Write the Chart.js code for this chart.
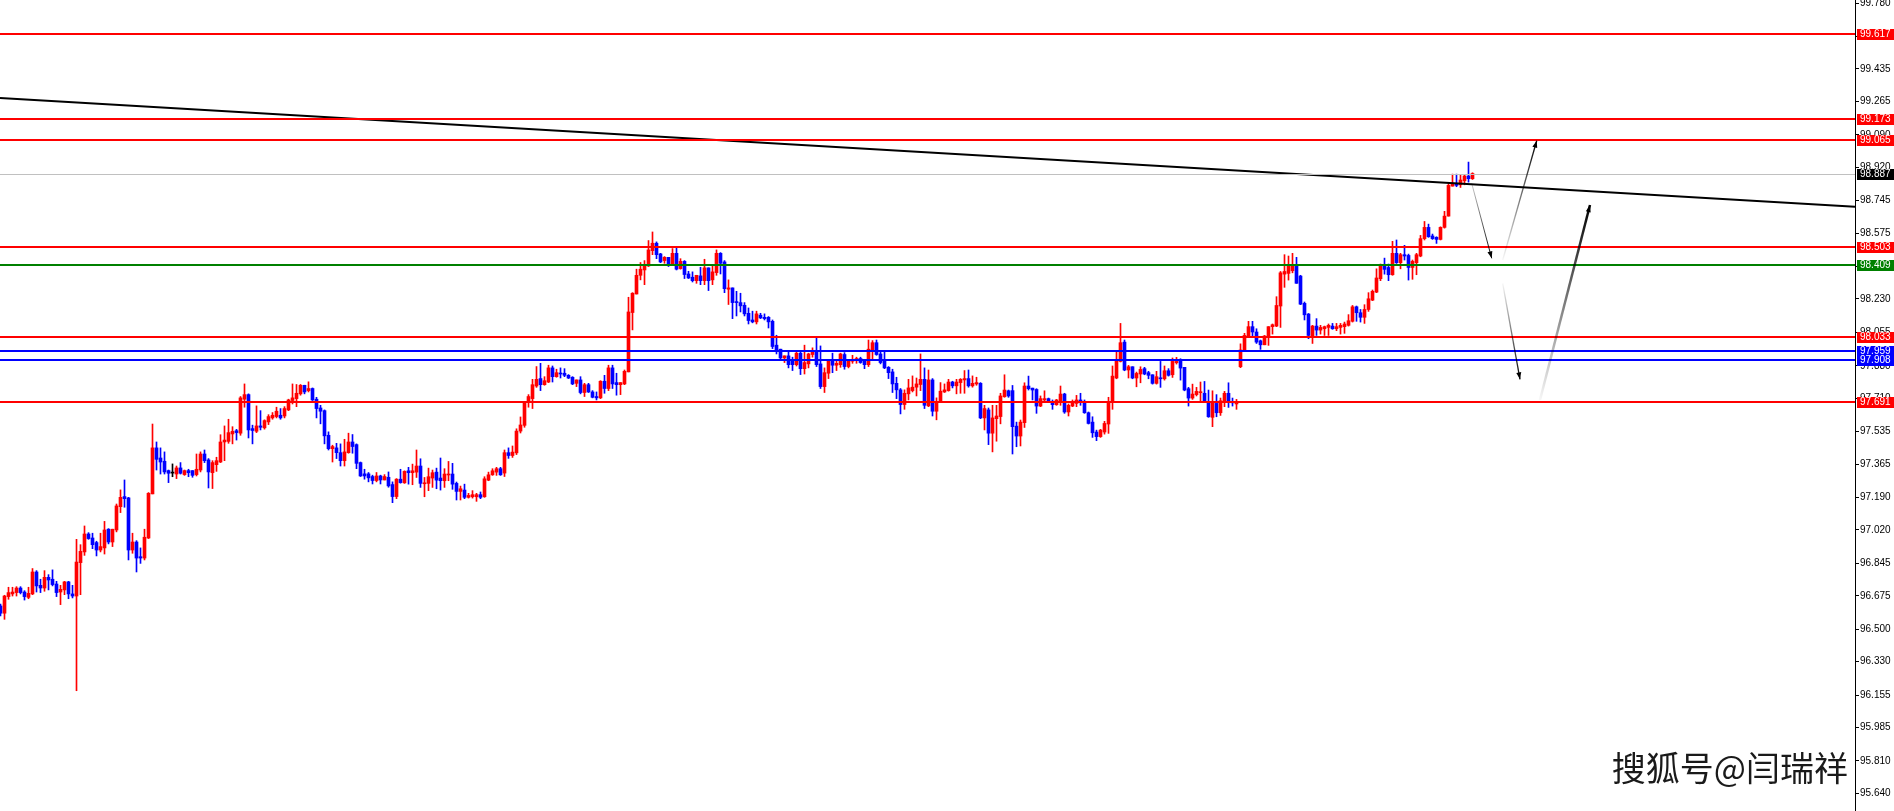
<!DOCTYPE html>
<html>
<head>
<meta charset="utf-8">
<title>USDX H1</title>
<script src="https://cdn.jsdelivr.net/npm/chart.js@4.4.1/dist/chart.umd.min.js"></script>
<style>
  html, body { margin: 0; padding: 0; background: #fff; }
  #wrap { width: 1894px; height: 811px; }
</style>
</head>
<body>
<div id="wrap"><canvas id="priceChart" width="1894" height="811"></canvas></div>
<script>
// candle data, one entry per bar (oldest first)
var openPrices = [
  96.622, 96.584, 96.671, 96.685, 96.692, 96.716, 96.695, 96.667, 96.685, 96.800,
  96.730, 96.716, 96.772, 96.762, 96.737, 96.695, 96.706, 96.748, 96.685, 96.674,
  96.849, 96.905, 96.999, 96.978, 96.954, 96.915, 96.926, 97.024, 96.957, 97.020,
  97.142, 97.195, 97.188, 96.915, 96.957, 96.880, 96.873, 96.978, 97.209, 97.450,
  97.397, 97.380, 97.331, 97.318, 97.313, 97.345, 97.310, 97.331, 97.331, 97.310,
  97.334, 97.418, 97.387, 97.320, 97.362, 97.376, 97.481, 97.484, 97.523, 97.540,
  97.527, 97.705, 97.729, 97.551, 97.537, 97.565, 97.555, 97.586, 97.607, 97.614,
  97.621, 97.617, 97.649, 97.698, 97.708, 97.733, 97.778, 97.750, 97.761, 97.705,
  97.659, 97.645, 97.516, 97.446, 97.450, 97.425, 97.383, 97.425, 97.481, 97.467,
  97.373, 97.314, 97.314, 97.300, 97.279, 97.303, 97.282, 97.296, 97.258, 97.195,
  97.286, 97.267, 97.330, 97.320, 97.323, 97.355, 97.262, 97.264, 97.292, 97.323,
  97.292, 97.278, 97.308, 97.313, 97.264, 97.222, 97.229, 97.191, 97.194, 97.194,
  97.205, 97.194, 97.281, 97.309, 97.323, 97.341, 97.318, 97.425, 97.410, 97.424,
  97.538, 97.568, 97.687, 97.708, 97.774, 97.813, 97.781, 97.795, 97.869, 97.823,
  97.841, 97.841, 97.830, 97.820, 97.788, 97.806, 97.740, 97.781, 97.743, 97.719,
  97.712, 97.799, 97.761, 97.869, 97.792, 97.781, 97.785, 97.848, 98.159, 98.256,
  98.354, 98.382, 98.403, 98.483, 98.522, 98.466, 98.431, 98.448, 98.410, 98.469,
  98.389, 98.427, 98.361, 98.344, 98.326, 98.351, 98.326, 98.393, 98.330, 98.368,
  98.469, 98.424, 98.281, 98.288, 98.214, 98.211, 98.197, 98.155, 98.120, 98.110,
  98.145, 98.134, 98.134, 98.113, 97.988, 97.967, 97.921, 97.932, 97.914, 97.886,
  97.946, 97.865, 97.890, 97.939, 97.956, 97.890, 97.771, 97.841, 97.904, 97.883,
  97.886, 97.939, 97.876, 97.904, 97.907, 97.918, 97.907, 97.886, 97.963, 98.001,
  97.942, 97.904, 97.872, 97.848, 97.788, 97.754, 97.677, 97.733, 97.750, 97.768,
  97.782, 97.809, 97.670, 97.806, 97.642, 97.687, 97.743, 97.750, 97.795, 97.775,
  97.792, 97.806, 97.813, 97.775, 97.785, 97.788, 97.607, 97.649, 97.527, 97.603,
  97.614, 97.718, 97.749, 97.750, 97.564, 97.512, 97.582, 97.774, 97.763, 97.756,
  97.669, 97.701, 97.708, 97.690, 97.676, 97.697, 97.732, 97.638, 97.669, 97.683,
  97.701, 97.694, 97.634, 97.585, 97.533, 97.509, 97.533, 97.575, 97.690, 97.816,
  97.903, 98.004, 97.858, 97.875, 97.816, 97.837, 97.865, 97.844, 97.833, 97.788,
  97.816, 97.812, 97.854, 97.833, 97.896, 97.914, 97.872, 97.760, 97.711, 97.729,
  97.739, 97.736, 97.694, 97.610, 97.683, 97.634, 97.694, 97.736, 97.690, 97.680,
  97.875, 97.963, 98.032, 98.085, 98.057, 98.011, 97.990, 98.032, 98.085, 98.088,
  98.193, 98.360, 98.364, 98.378, 98.406, 98.350, 98.207, 98.151, 98.036, 98.088,
  98.067, 98.074, 98.081, 98.088, 98.074, 98.081, 98.085, 98.092, 98.113, 98.189,
  98.158, 98.134, 98.175, 98.224, 98.266, 98.336, 98.409, 98.395, 98.357, 98.469,
  98.420, 98.462, 98.458, 98.395, 98.420, 98.455, 98.546, 98.605, 98.560, 98.553,
  98.542, 98.605, 98.664, 98.821, 98.835, 98.828, 98.849, 98.874, 98.860
];
var highPrices = [
  96.632, 96.678, 96.720, 96.720, 96.723, 96.723, 96.702, 96.720, 96.818, 96.807,
  96.762, 96.807, 96.786, 96.811, 96.751, 96.730, 96.751, 96.751, 96.730, 96.971,
  96.943, 97.041, 97.006, 97.003, 96.961, 97.003, 97.065, 97.027, 97.024, 97.156,
  97.230, 97.282, 97.191, 97.003, 96.964, 96.926, 97.024, 97.216, 97.575, 97.481,
  97.450, 97.429, 97.334, 97.366, 97.355, 97.373, 97.334, 97.338, 97.331, 97.418,
  97.429, 97.439, 97.394, 97.383, 97.401, 97.519, 97.565, 97.600, 97.561, 97.547,
  97.719, 97.785, 97.733, 97.569, 97.670, 97.645, 97.597, 97.624, 97.635, 97.663,
  97.656, 97.666, 97.705, 97.785, 97.782, 97.782, 97.778, 97.796, 97.764, 97.715,
  97.673, 97.649, 97.534, 97.464, 97.474, 97.471, 97.495, 97.527, 97.520, 97.471,
  97.376, 97.338, 97.321, 97.307, 97.321, 97.307, 97.310, 97.324, 97.272, 97.289,
  97.338, 97.330, 97.348, 97.365, 97.439, 97.393, 97.295, 97.344, 97.334, 97.344,
  97.397, 97.341, 97.379, 97.369, 97.271, 97.250, 97.260, 97.212, 97.226, 97.212,
  97.219, 97.299, 97.323, 97.341, 97.348, 97.348, 97.439, 97.450, 97.460, 97.550,
  97.612, 97.691, 97.729, 97.809, 97.876, 97.893, 97.823, 97.883, 97.879, 97.862,
  97.869, 97.865, 97.834, 97.823, 97.806, 97.823, 97.788, 97.788, 97.750, 97.743,
  97.802, 97.830, 97.883, 97.883, 97.841, 97.792, 97.858, 98.239, 98.263, 98.386,
  98.421, 98.431, 98.536, 98.581, 98.529, 98.469, 98.452, 98.448, 98.494, 98.497,
  98.441, 98.431, 98.375, 98.372, 98.354, 98.396, 98.438, 98.393, 98.403, 98.487,
  98.473, 98.431, 98.330, 98.288, 98.270, 98.260, 98.211, 98.183, 98.166, 98.166,
  98.155, 98.152, 98.138, 98.120, 98.040, 97.967, 97.932, 97.956, 97.925, 97.956,
  97.953, 97.988, 97.946, 97.974, 98.026, 97.984, 97.869, 97.914, 97.946, 97.914,
  97.946, 97.949, 97.914, 97.935, 97.925, 97.925, 97.911, 98.015, 98.012, 98.015,
  97.960, 97.956, 97.876, 97.862, 97.820, 97.761, 97.754, 97.809, 97.827, 97.816,
  97.942, 97.869, 97.858, 97.813, 97.712, 97.792, 97.785, 97.809, 97.799, 97.809,
  97.813, 97.855, 97.858, 97.827, 97.820, 97.792, 97.673, 97.659, 97.673, 97.673,
  97.736, 97.833, 97.753, 97.777, 97.585, 97.596, 97.791, 97.826, 97.763, 97.760,
  97.722, 97.749, 97.711, 97.701, 97.704, 97.774, 97.736, 97.680, 97.701, 97.725,
  97.736, 97.701, 97.638, 97.613, 97.543, 97.547, 97.589, 97.715, 97.879, 97.956,
  98.102, 98.015, 97.882, 97.875, 97.847, 97.875, 97.872, 97.851, 97.833, 97.851,
  97.903, 97.879, 97.865, 97.921, 97.924, 97.917, 97.872, 97.767, 97.784, 97.767,
  97.795, 97.798, 97.753, 97.749, 97.729, 97.711, 97.746, 97.791, 97.711, 97.704,
  97.995, 98.050, 98.113, 98.113, 98.074, 98.015, 98.039, 98.085, 98.099, 98.242,
  98.374, 98.462, 98.455, 98.469, 98.448, 98.354, 98.214, 98.154, 98.092, 98.127,
  98.092, 98.088, 98.099, 98.102, 98.102, 98.102, 98.109, 98.148, 98.196, 98.193,
  98.175, 98.200, 98.263, 98.277, 98.388, 98.413, 98.444, 98.413, 98.532, 98.539,
  98.469, 98.511, 98.465, 98.434, 98.469, 98.563, 98.636, 98.622, 98.570, 98.556,
  98.608, 98.689, 98.835, 98.884, 98.884, 98.881, 98.881, 98.947, 98.891
];
var lowPrices = [
  96.570, 96.552, 96.657, 96.674, 96.674, 96.685, 96.653, 96.660, 96.681, 96.695,
  96.692, 96.699, 96.706, 96.727, 96.671, 96.629, 96.681, 96.660, 96.664, 96.178,
  96.681, 96.887, 96.971, 96.922, 96.884, 96.905, 96.894, 96.947, 96.933, 97.010,
  97.111, 97.139, 96.863, 96.898, 96.800, 96.845, 96.863, 96.975, 97.209, 97.334,
  97.313, 97.313, 97.268, 97.299, 97.289, 97.313, 97.306, 97.299, 97.296, 97.303,
  97.324, 97.373, 97.240, 97.237, 97.327, 97.373, 97.383, 97.474, 97.471, 97.491,
  97.516, 97.663, 97.502, 97.471, 97.530, 97.544, 97.548, 97.572, 97.600, 97.607,
  97.600, 97.607, 97.645, 97.680, 97.666, 97.726, 97.733, 97.743, 97.698, 97.607,
  97.576, 97.471, 97.439, 97.376, 97.394, 97.355, 97.355, 97.422, 97.422, 97.341,
  97.300, 97.286, 97.272, 97.261, 97.272, 97.261, 97.282, 97.244, 97.163, 97.184,
  97.265, 97.264, 97.260, 97.257, 97.295, 97.243, 97.194, 97.226, 97.243, 97.236,
  97.229, 97.243, 97.278, 97.233, 97.177, 97.177, 97.184, 97.187, 97.187, 97.170,
  97.184, 97.191, 97.278, 97.306, 97.306, 97.306, 97.300, 97.395, 97.400, 97.415,
  97.528, 97.558, 97.663, 97.656, 97.767, 97.750, 97.778, 97.792, 97.795, 97.820,
  97.816, 97.823, 97.813, 97.781, 97.771, 97.733, 97.719, 97.740, 97.712, 97.701,
  97.708, 97.736, 97.750, 97.761, 97.726, 97.729, 97.781, 97.848, 98.068, 98.256,
  98.330, 98.305, 98.400, 98.462, 98.441, 98.420, 98.417, 98.400, 98.407, 98.382,
  98.386, 98.337, 98.337, 98.319, 98.312, 98.305, 98.305, 98.274, 98.305, 98.354,
  98.361, 98.263, 98.201, 98.127, 98.141, 98.162, 98.141, 98.099, 98.105, 98.099,
  98.127, 98.120, 98.078, 97.970, 97.942, 97.914, 97.897, 97.869, 97.855, 97.879,
  97.834, 97.837, 97.869, 97.925, 97.876, 97.761, 97.740, 97.813, 97.844, 97.855,
  97.872, 97.862, 97.869, 97.893, 97.893, 97.893, 97.865, 97.876, 97.911, 97.935,
  97.890, 97.865, 97.813, 97.740, 97.708, 97.628, 97.652, 97.701, 97.743, 97.722,
  97.750, 97.656, 97.666, 97.617, 97.597, 97.687, 97.740, 97.747, 97.764, 97.733,
  97.736, 97.736, 97.768, 97.768, 97.778, 97.603, 97.544, 97.467, 97.429, 97.485,
  97.576, 97.715, 97.715, 97.418, 97.456, 97.460, 97.557, 97.753, 97.701, 97.631,
  97.666, 97.697, 97.687, 97.652, 97.673, 97.673, 97.631, 97.617, 97.666, 97.666,
  97.673, 97.631, 97.575, 97.505, 97.488, 97.505, 97.522, 97.526, 97.652, 97.812,
  97.900, 97.854, 97.816, 97.812, 97.770, 97.791, 97.833, 97.812, 97.784, 97.784,
  97.767, 97.805, 97.826, 97.819, 97.889, 97.805, 97.749, 97.669, 97.704, 97.722,
  97.690, 97.690, 97.610, 97.561, 97.613, 97.620, 97.666, 97.662, 97.669, 97.652,
  97.870, 97.955, 98.032, 98.036, 97.997, 97.966, 97.990, 97.987, 98.046, 98.085,
  98.081, 98.291, 98.329, 98.367, 98.312, 98.200, 98.120, 98.022, 97.997, 98.039,
  98.046, 98.039, 98.039, 98.071, 98.064, 98.046, 98.050, 98.088, 98.109, 98.113,
  98.109, 98.102, 98.165, 98.221, 98.263, 98.326, 98.360, 98.326, 98.354, 98.416,
  98.388, 98.434, 98.329, 98.333, 98.357, 98.451, 98.539, 98.553, 98.542, 98.521,
  98.539, 98.601, 98.664, 98.821, 98.818, 98.814, 98.828, 98.842, 98.856
];
var closePrices = [
  96.584, 96.674, 96.692, 96.695, 96.716, 96.692, 96.671, 96.688, 96.800, 96.727,
  96.716, 96.772, 96.758, 96.734, 96.692, 96.709, 96.748, 96.685, 96.674, 96.852,
  96.908, 96.999, 96.975, 96.943, 96.915, 96.933, 97.020, 96.957, 97.024, 97.146,
  97.191, 97.184, 96.915, 96.957, 96.873, 96.873, 96.982, 97.212, 97.450, 97.390,
  97.376, 97.324, 97.317, 97.318, 97.345, 97.317, 97.331, 97.320, 97.306, 97.338,
  97.418, 97.383, 97.324, 97.373, 97.383, 97.481, 97.491, 97.530, 97.537, 97.530,
  97.712, 97.729, 97.544, 97.541, 97.565, 97.558, 97.593, 97.614, 97.621, 97.642,
  97.607, 97.656, 97.701, 97.712, 97.736, 97.778, 97.743, 97.761, 97.701, 97.656,
  97.642, 97.513, 97.446, 97.457, 97.425, 97.383, 97.429, 97.481, 97.457, 97.369,
  97.303, 97.303, 97.293, 97.279, 97.303, 97.282, 97.300, 97.251, 97.195, 97.286,
  97.268, 97.327, 97.320, 97.330, 97.355, 97.264, 97.267, 97.299, 97.320, 97.281,
  97.278, 97.313, 97.313, 97.260, 97.222, 97.236, 97.191, 97.201, 97.205, 97.205,
  97.191, 97.288, 97.309, 97.330, 97.341, 97.309, 97.425, 97.410, 97.428, 97.538,
  97.570, 97.687, 97.719, 97.781, 97.809, 97.781, 97.802, 97.869, 97.823, 97.844,
  97.837, 97.830, 97.816, 97.785, 97.806, 97.740, 97.781, 97.743, 97.715, 97.712,
  97.799, 97.761, 97.869, 97.785, 97.781, 97.792, 97.851, 98.162, 98.260, 98.354,
  98.386, 98.407, 98.487, 98.522, 98.462, 98.424, 98.448, 98.410, 98.469, 98.386,
  98.427, 98.358, 98.340, 98.326, 98.354, 98.326, 98.393, 98.326, 98.372, 98.469,
  98.417, 98.284, 98.288, 98.211, 98.211, 98.194, 98.152, 98.117, 98.110, 98.152,
  98.131, 98.127, 98.110, 97.981, 97.960, 97.921, 97.932, 97.886, 97.886, 97.946,
  97.865, 97.897, 97.942, 97.956, 97.886, 97.771, 97.844, 97.904, 97.883, 97.893,
  97.942, 97.876, 97.904, 97.911, 97.918, 97.897, 97.886, 97.967, 98.001, 97.939,
  97.897, 97.869, 97.844, 97.785, 97.754, 97.677, 97.736, 97.764, 97.768, 97.785,
  97.809, 97.673, 97.806, 97.642, 97.691, 97.747, 97.754, 97.795, 97.775, 97.795,
  97.809, 97.813, 97.775, 97.788, 97.792, 97.607, 97.656, 97.527, 97.607, 97.617,
  97.722, 97.753, 97.722, 97.561, 97.512, 97.585, 97.774, 97.760, 97.753, 97.669,
  97.708, 97.708, 97.690, 97.676, 97.701, 97.732, 97.638, 97.673, 97.690, 97.701,
  97.690, 97.634, 97.578, 97.529, 97.509, 97.543, 97.578, 97.694, 97.826, 97.907,
  98.001, 97.858, 97.875, 97.816, 97.840, 97.861, 97.837, 97.830, 97.788, 97.823,
  97.812, 97.854, 97.830, 97.903, 97.903, 97.868, 97.753, 97.711, 97.732, 97.746,
  97.742, 97.690, 97.613, 97.690, 97.634, 97.697, 97.736, 97.687, 97.686, 97.694,
  97.963, 98.039, 98.085, 98.057, 98.004, 97.990, 98.036, 98.085, 98.095, 98.196,
  98.367, 98.374, 98.406, 98.406, 98.312, 98.203, 98.147, 98.039, 98.088, 98.067,
  98.081, 98.085, 98.092, 98.074, 98.085, 98.092, 98.099, 98.116, 98.189, 98.158,
  98.134, 98.175, 98.231, 98.270, 98.340, 98.409, 98.385, 98.357, 98.469, 98.420,
  98.462, 98.455, 98.395, 98.427, 98.462, 98.546, 98.605, 98.556, 98.546, 98.542,
  98.605, 98.664, 98.825, 98.835, 98.825, 98.853, 98.874, 98.860, 98.887
];

// horizontal levels drawn on the chart
var levelValues = [99.617, 99.173, 99.065, 98.887, 98.503, 98.409, 98.033, 97.959, 97.908, 97.691];
var levelColors = ['#ff0000', '#ff0000', '#ff0000', '#c0c0c0', '#ff0000', '#008000', '#ff0000', '#0000ff', '#0000ff', '#ff0000'];
var levelBoxColors = ['#ff0000', '#ff0000', '#ff0000', '#000000', '#ff0000', '#008000', '#ff0000', '#0000ff', '#0000ff', '#ff0000'];

// price axis labels
var tickValues = [99.780, 99.605, 99.435, 99.265, 99.090, 98.920, 98.745, 98.575, 98.400, 98.230,
  98.055, 97.880, 97.710, 97.535, 97.365, 97.190, 97.020, 96.845, 96.675, 96.500,
  96.330, 96.155, 95.985, 95.810, 95.640];

// falling trend line (bar index, price)
var trendX = [-0.125, 463.625];
var trendY = [99.283, 98.713];

// projection arrows (bar index, price)
var arrowX0 = [367.8, 375.55, 375.55, 384.875];
var arrowY0 = [98.836, 98.434, 98.312, 97.701];
var arrowX1 = [372.8, 384.05, 379.875, 397.375];
var arrowY1 = [98.443, 99.059, 97.809, 98.722];
var arrowWidths = [1, 1.3, 1.3, 2.5];

var watermark = '搜狐号@闫瑞祥';

var candleColors = openPrices.map(function(o, i){
  var c = closePrices[i];
  if (c > o) return '#ff0000';
  if (c < o) return '#0000ff';
  return '#000000';
});
var wickData = openPrices.map(function(o, i){ return {x: i, y: [lowPrices[i], highPrices[i]]}; });
var bodyData = openPrices.map(function(o, i){ return {x: i, y: [o, closePrices[i]]}; });
var trendData = trendX.map(function(v, i){ return {x: v, y: trendY[i]}; });

var axisFont = '"Liberation Sans", Arial, sans-serif';

var overlay = {
  id: 'overlay',
  afterDatasetsDraw: function(chart){
    var ctx = chart.ctx, area = chart.chartArea, xs = chart.scales.x, ys = chart.scales.y;
    ctx.save();
    // level lines
    for (var i = 0; i < levelValues.length; i++){
      var py = Math.round(ys.getPixelForValue(levelValues[i]));
      var thick = levelColors[i] === '#c0c0c0' ? 1 : 2;
      ctx.fillStyle = levelColors[i];
      ctx.fillRect(area.left, py - (thick > 1 ? 1 : 0), area.right - area.left, thick);
    }
    // arrows
    for (var j = 0; j < arrowX0.length; j++){
      var x0 = xs.getPixelForValue(arrowX0[j]), y0 = ys.getPixelForValue(arrowY0[j]);
      var x1 = xs.getPixelForValue(arrowX1[j]), y1 = ys.getPixelForValue(arrowY1[j]);
      var g = ctx.createLinearGradient(x0, y0, x1, y1);
      g.addColorStop(0, j === 0 ? 'rgba(0,0,0,0.2)' : 'rgba(0,0,0,0.03)');
      g.addColorStop(1, 'rgba(0,0,0,1)');
      ctx.strokeStyle = g;
      ctx.lineWidth = arrowWidths[j];
      ctx.beginPath();
      ctx.moveTo(x0, y0);
      ctx.lineTo(x1, y1);
      ctx.stroke();
      var ang = Math.atan2(y1 - y0, x1 - x0), L = 7, W = 2.5;
      ctx.fillStyle = '#000';
      ctx.beginPath();
      ctx.moveTo(x1, y1);
      ctx.lineTo(x1 - L*Math.cos(ang) + W*Math.sin(ang), y1 - L*Math.sin(ang) - W*Math.cos(ang));
      ctx.lineTo(x1 - L*Math.cos(ang) - W*Math.sin(ang), y1 - L*Math.sin(ang) + W*Math.cos(ang));
      ctx.closePath();
      ctx.fill();
    }
    ctx.restore();
  },
  afterDraw: function(chart){
    var ctx = chart.ctx, area = chart.chartArea, ys = chart.scales.y;
    ctx.save();
    // price boxes on the axis
    ctx.font = '10px ' + axisFont;
    ctx.textBaseline = 'middle';
    ctx.textAlign = 'left';
    for (var i = 0; i < levelValues.length; i++){
      var py = Math.round(ys.getPixelForValue(levelValues[i]));
      ctx.fillStyle = levelBoxColors[i];
      ctx.fillRect(area.right + 2, py - 5, 37, 11);
      ctx.fillStyle = '#ffffff';
      ctx.fillText(levelValues[i].toFixed(3), area.right + 5, py + 0.5);
    }
    // watermark
    ctx.font = '34px "Noto Sans CJK SC", sans-serif';
    ctx.textAlign = 'right';
    ctx.textBaseline = 'middle';
    ctx.lineWidth = 3;
    ctx.strokeStyle = 'rgba(255,255,255,0.9)';
    ctx.strokeText(watermark, area.right - 7, 768);
    ctx.fillStyle = '#1a1a1a';
    ctx.fillText(watermark, area.right - 7, 768);
    ctx.restore();
  }
};

var chart = new Chart(document.getElementById('priceChart'), {
  type: 'bar',
  data: {
    datasets: [
      { type: 'bar', data: wickData, backgroundColor: candleColors, barThickness: 1, grouped: false, order: 2 },
      { type: 'bar', data: bodyData, backgroundColor: candleColors, barThickness: 3, grouped: false, minBarLength: 1, order: 1 },
      { type: 'line', data: trendData, borderColor: '#000000', borderWidth: 2, pointRadius: 0, order: 0 }
    ]
  },
  options: {
    responsive: false,
    animation: false,
    devicePixelRatio: 1,
    layout: { padding: 0 },
    plugins: { legend: { display: false }, tooltip: { enabled: false } },
    scales: {
      x: { type: 'linear', display: false, min: -0.125, max: 463.625, offset: false },
      y: {
        position: 'right',
        min: 95.548,
        max: 99.796,
        bounds: 'data',
        afterBuildTicks: function(s){ s.ticks = tickValues.map(function(v){ return {value: v}; }); },
        afterFit: function(s){ s.width = 39; s.paddingTop = 0; s.paddingBottom = 0; },
        ticks: {
          color: '#000000',
          autoSkip: false,
          padding: 1,
          font: { family: axisFont, size: 10 },
          callback: function(v){ return Number(v).toFixed(3); }
        },
        grid: { drawOnChartArea: false, drawTicks: true, tickLength: 4, color: '#000000' },
        border: { display: true, color: '#000000', width: 1 }
      }
    }
  },
  plugins: [overlay]
});
</script>
</body>
</html>
